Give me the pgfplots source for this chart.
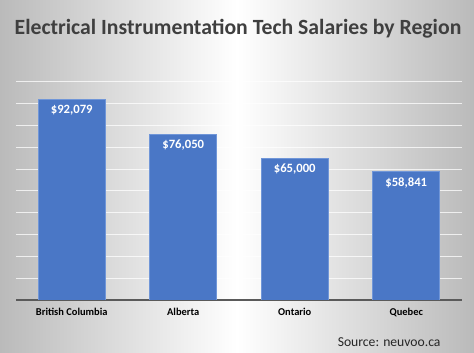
\documentclass[border=0pt]{standalone}
\usepackage{pgfplots}
\pgfplotsset{compat=1.18}
\usepackage{fontspec}
\setmainfont{Carlito}
\definecolor{barblue}{HTML}{4A77C6}
\definecolor{baredge}{HTML}{7096D8}
\definecolor{titlegray}{HTML}{3F3F3F}
\definecolor{axisgray}{HTML}{5A5A5A}
\begin{document}
\begin{tikzpicture}
\shade[left color=black!27, right color=black!27, middle color=white] (0bp,0bp) rectangle (474bp,353bp);
\node[text=titlegray, font=\bfseries\fontsize{21.8}{24}\selectfont] at (238bp,324bp) {Electrical Instrumentation Tech Salaries by Region};
\node[text=black!85, font=\fontsize{13.7}{16}\selectfont, anchor=east] at (444bp,11bp) {Source: neuvoo.ca};
\begin{axis}[
  at={(16bp,53bp)}, anchor=south west,
  scale only axis, width=446bp, height=218bp,
  xmin=-0.5, xmax=3.5, ymin=0, ymax=100000,
  scaled y ticks=false,
  ybar, bar width=67bp,
  axis x line*=bottom, axis y line*=left,
  x axis line style={draw=axisgray, line width=1.6pt},
  y axis line style={draw=none},
  xtick=data,
  xticklabels={British Columbia, Alberta, Ontario, Quebec},
  xticklabel style={font=\bfseries\fontsize{10.5}{12}\selectfont, text=black},
  xtick style={draw=none},
  ytick={10000,20000,...,100000},
  yticklabels={},
  ytick style={draw=none},
  ymajorgrids,
  major grid style={white, opacity=0.75, line width=1pt},
  point meta=explicit symbolic,
  nodes near coords,
  nodes near coords style={anchor=north, yshift=-2bp, text=white, font=\bfseries\fontsize{12.7}{14}\selectfont},
]
\addplot[fill=barblue, draw=baredge, line width=0.6pt] coordinates {
  (0,92079) [\$92,079]
  (1,76050) [\$76,050]
  (2,65000) [\$65,000]
  (3,58841) [\$58,841]
};
\end{axis}
\end{tikzpicture}
\end{document}
